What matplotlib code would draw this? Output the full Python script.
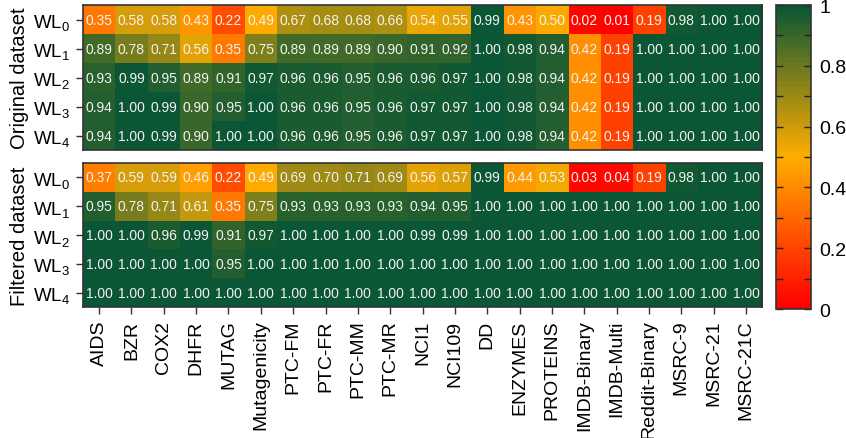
import matplotlib
matplotlib.use('Agg')
import matplotlib.pyplot as plt
import numpy as np
from matplotlib.colors import LinearSegmentedColormap

plt.rcParams['font.family'] = ['Liberation Sans', 'DejaVu Sans']
plt.rcParams['mathtext.fontset'] = 'custom'
plt.rcParams['mathtext.rm'] = 'Liberation Sans'
plt.rcParams['mathtext.it'] = 'Liberation Sans'

datasets = ['AIDS', 'BZR', 'COX2', 'DHFR', 'MUTAG', 'Mutagenicity', 'PTC-FM', 'PTC-FR',
            'PTC-MM', 'PTC-MR', 'NCI1', 'NCI109', 'DD', 'ENZYMES', 'PROTEINS',
            'IMDB-Binary', 'IMDB-Multi', 'Reddit-Binary', 'MSRC-9', 'MSRC-21', 'MSRC-21C']
wl_labels = [r'WL$_0$', r'WL$_1$', r'WL$_2$', r'WL$_3$', r'WL$_4$']

original = [
    [0.35, 0.58, 0.58, 0.43, 0.22, 0.49, 0.67, 0.68, 0.68, 0.66, 0.54, 0.55, 0.99, 0.43, 0.50, 0.02, 0.01, 0.19, 0.98, 1.00, 1.00],
    [0.89, 0.78, 0.71, 0.56, 0.35, 0.75, 0.89, 0.89, 0.89, 0.90, 0.91, 0.92, 1.00, 0.98, 0.94, 0.42, 0.19, 1.00, 1.00, 1.00, 1.00],
    [0.93, 0.99, 0.95, 0.89, 0.91, 0.97, 0.96, 0.96, 0.95, 0.96, 0.96, 0.97, 1.00, 0.98, 0.94, 0.42, 0.19, 1.00, 1.00, 1.00, 1.00],
    [0.94, 1.00, 0.99, 0.90, 0.95, 1.00, 0.96, 0.96, 0.95, 0.96, 0.97, 0.97, 1.00, 0.98, 0.94, 0.42, 0.19, 1.00, 1.00, 1.00, 1.00],
    [0.94, 1.00, 0.99, 0.90, 1.00, 1.00, 0.96, 0.96, 0.95, 0.96, 0.97, 0.97, 1.00, 0.98, 0.94, 0.42, 0.19, 1.00, 1.00, 1.00, 1.00],
]
filtered = [
    [0.37, 0.59, 0.59, 0.46, 0.22, 0.49, 0.69, 0.70, 0.71, 0.69, 0.56, 0.57, 0.99, 0.44, 0.53, 0.03, 0.04, 0.19, 0.98, 1.00, 1.00],
    [0.95, 0.78, 0.71, 0.61, 0.35, 0.75, 0.93, 0.93, 0.93, 0.93, 0.94, 0.95, 1.00, 1.00, 1.00, 1.00, 1.00, 1.00, 1.00, 1.00, 1.00],
    [1.00, 1.00, 0.96, 0.99, 0.91, 0.97, 1.00, 1.00, 1.00, 1.00, 0.99, 0.99, 1.00, 1.00, 1.00, 1.00, 1.00, 1.00, 1.00, 1.00, 1.00],
    [1.00, 1.00, 1.00, 1.00, 0.95, 1.00, 1.00, 1.00, 1.00, 1.00, 1.00, 1.00, 1.00, 1.00, 1.00, 1.00, 1.00, 1.00, 1.00, 1.00, 1.00],
    [1.00, 1.00, 1.00, 1.00, 1.00, 1.00, 1.00, 1.00, 1.00, 1.00, 1.00, 1.00, 1.00, 1.00, 1.00, 1.00, 1.00, 1.00, 1.00, 1.00, 1.00],
]

cmap = LinearSegmentedColormap.from_list(
    'rog', [(0.0, '#ff0000'), (0.5, '#ffad00'), (1.0, '#0b5634')], N=64)

fig = plt.figure(figsize=(8.46, 4.39), dpi=100)
ax_top = fig.add_axes([0.098, 0.656, 0.803, 0.330])
ax_bot = fig.add_axes([0.098, 0.2984, 0.803, 0.328])
cax = fig.add_axes([0.917, 0.2938, 0.0414, 0.6925])

frame = '#333333'
for ax, data, name in [(ax_top, original, 'Original dataset'),
                       (ax_bot, filtered, 'Filtered dataset')]:
    arr = np.array(data)
    im = ax.imshow(arr, cmap=cmap, vmin=0, vmax=1, aspect='auto',
                   interpolation='nearest')
    for i in range(arr.shape[0]):
        for j in range(arr.shape[1]):
            ax.text(j, i, f'{arr[i, j]:.2f}', ha='center', va='center',
                    color='#f2f2f2', fontsize=10)
    ax.set_yticks(range(len(wl_labels)))
    ax.set_yticklabels(wl_labels, fontsize=13.5)
    ax.set_ylabel(name, fontsize=14.5, labelpad=3)
    ax.tick_params(axis='y', length=5, width=1, color=frame, pad=4)
    for s in ax.spines.values():
        s.set_color(frame)
        s.set_linewidth(1.2)

ax_top.set_xticks([])
ax_bot.set_xticks(range(len(datasets)))
ax_bot.set_xticklabels(datasets, rotation=90, fontsize=14)
ax_bot.tick_params(axis='x', length=5, width=1, color=frame, pad=4)

cb = fig.colorbar(im, cax=cax)
ticks = np.round(np.arange(0, 1.01, 0.1), 1)
cb.set_ticks(ticks)
cb.set_ticklabels(['0', '', '0.2', '', '0.4', '', '0.6', '', '0.8', '', '1'])
cax.tick_params(axis='y', direction='in', left=True, right=True, length=5,
                width=1, color='#222222', labelsize=14, pad=6)
cb.outline.set_edgecolor(frame)
cb.outline.set_linewidth(1.2)

plt.savefig('out.png', dpi=100)
plt.close()
